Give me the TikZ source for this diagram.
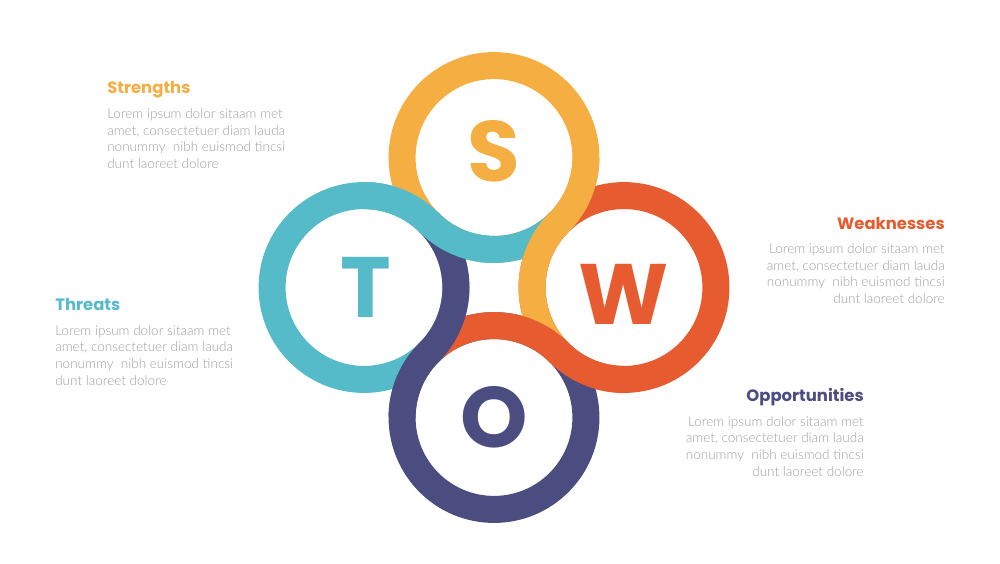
\documentclass[tikz,border=0pt]{standalone}
\usepackage{fontspec}
\setmainfont{Lato}[UprightFont={* Light}]
\newfontfamily\headfont{Poppins}
\usepackage{tikz}
\usetikzlibrary{positioning, calc}
\definecolor{sOrange}{HTML}{F4AE42}
\definecolor{tTeal}{HTML}{55BBC9}
\definecolor{wRed}{HTML}{E65B2F}
\definecolor{oNavy}{HTML}{4B4C80}
\definecolor{loremGray}{HTML}{9E9E9E}
\newcommand{\ringR}{2.298cm}
\tikzset{%
	ring/.style={line width=0.675cm},
	letter/.style={font=\headfont\bfseries\fontsize{61}{61}\selectfont, inner sep=0mm},
	heading/.style={font=\headfont\bfseries\fontsize{11.7}{14}\selectfont, inner sep=0mm},
	lorem/.style={font=\fontsize{9.62}{11.84}\selectfont, text=loremGray, inner sep=0mm}
}

\begin{document}
\begin{tikzpicture}
	\useasboundingbox (0,0) rectangle (25,14.075);
	\coordinate (ctr) at (12.35,6.8875);
	\coordinate[above=3.25cm of ctr] (sC);
	\coordinate[right=3.25cm of ctr] (wC);
	\coordinate[below=3.25cm of ctr] (oC);
	\coordinate[left=3.25cm of ctr] (tC);

	% base rings
	\draw[ring, tTeal] (tC) circle[radius=\ringR];
	\draw[ring, sOrange] (sC) circle[radius=\ringR];
	\draw[ring, wRed] (wC) circle[radius=\ringR];
	\draw[ring, oNavy] (oC) circle[radius=\ringR];

	% each ring runs on into the next one
	\draw[ring, tTeal] ($(tC)+(90:\ringR)$) arc[start angle=90, end angle=45, radius=\ringR]
		arc[start angle=225, end angle=315, radius=\ringR];
	\draw[ring, sOrange] ($(sC)+(0:\ringR)$) arc[start angle=360, end angle=315, radius=\ringR]
		arc[start angle=135, end angle=225, radius=\ringR];
	\draw[ring, wRed] ($(wC)+(270:\ringR)$) arc[start angle=270, end angle=225, radius=\ringR]
		arc[start angle=45, end angle=135, radius=\ringR];
	\draw[ring, oNavy] ($(oC)+(180:\ringR)$) arc[start angle=180, end angle=135, radius=\ringR]
		arc[start angle=-45, end angle=45, radius=\ringR];
	\begin{scope}
		\clip (ctr) rectangle ++(-6,6);
		\draw[ring, tTeal] ($(tC)+(90:\ringR)$) arc[start angle=90, end angle=45, radius=\ringR]
			arc[start angle=225, end angle=315, radius=\ringR];
	\end{scope}

	\node[letter, text=sOrange, yshift=0.15cm] (sLetter) at (sC) {S};
	\node[letter, text=wRed, yshift=-0.175cm] (wLetter) at (wC) {W};
	\node[letter, text=oNavy] (oLetter) at (oC) {O};
	\node[letter, text=tTeal, xshift=0.05cm] (tLetter) at (tC) {T};

	\node[heading, text=sOrange, anchor=base west] (sHead) at (2.675,11.725) {Strengths};
	\node[lorem, align=left, below right=0.36cm and 0cm of sHead.base west] (sText)
		{Lorem ipsum dolor sitaam met\\amet, consectetuer diam lauda\\nonummy\ \ nibh euismod tincsi\\dunt laoreet dolore};
	\node[heading, text=tTeal, anchor=base west] (tHead) at (1.375,6.31) {Threats};
	\node[lorem, align=left, below right=0.36cm and 0cm of tHead.base west] (tText)
		{Lorem ipsum dolor sitaam met\\amet, consectetuer diam lauda\\nonummy\ \ nibh euismod tincsi\\dunt laoreet dolore};
	\node[heading, text=wRed, anchor=base east] (wHead) at (23.625,8.35) {Weaknesses};
	\node[lorem, align=right, below left=0.36cm and 0cm of wHead.base east] (wText)
		{Lorem ipsum dolor sitaam met\\amet, consectetuer diam lauda\\nonummy\ \ nibh euismod tincsi\\dunt laoreet dolore};
	\node[heading, text=oNavy, anchor=base east] (oHead) at (21.6,4.0325) {Opportunities};
	\node[lorem, align=right, below left=0.36cm and 0cm of oHead.base east] (oText)
		{Lorem ipsum dolor sitaam met\\amet, consectetuer diam lauda\\nonummy\ \ nibh euismod tincsi\\dunt laoreet dolore};
\end{tikzpicture}
\end{document}
